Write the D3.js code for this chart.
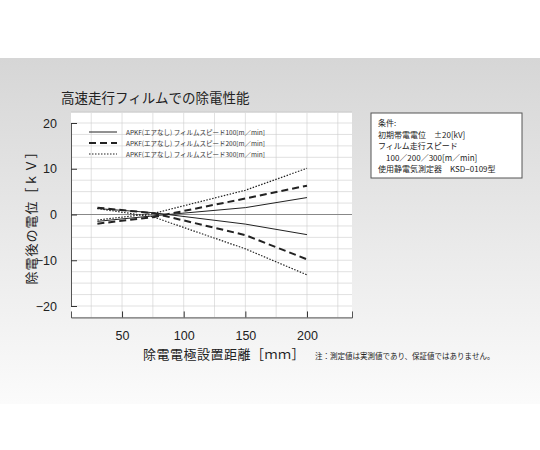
<!DOCTYPE html>
<html><head><meta charset="utf-8">
<script src="https://cdn.jsdelivr.net/npm/d3@7"></script>
<style>body{margin:0;background:#fff}text{font-family:"Noto Sans CJK JP",sans-serif}</style>
</head><body><svg width="540" height="450"></svg>
<script>
const xs = [30, 75, 150, 200]
const series = [
  { name: 'APKF(エアなし) フィルムスピード100[m／min]', dash: null, w: 1, pos: [-1.5, -0.3, 1.5, 3.7], neg: [1.3, 0.4, -2.1, -4.4] },
  { name: 'APKF(エアなし) フィルムスピード200[m／min]', dash: '7,4', w: 2, pos: [-2, -0.6, 3.5, 6.3], neg: [1.5, 0.3, -4.5, -9.8] },
  { name: 'APKF(エアなし) フィルムスピード300[m／min]', dash: '1.5,1.5', w: 1.2, pos: [-1.2, 0.2, 5.3, 10.1], neg: [1.3, -0.5, -7.5, -13.2] }
]
const xTicks = [50, 100, 150, 200]
const yTicks = [-20, -10, 0, 10, 20]
const notes = ['条件:', '初期帯電電位　±20[kV]', 'フィルム走行スピード', '　100／200／300[m／min]', '使用静電気測定器　KSD−0109型']

const svg = d3.select('svg')
const grad = svg.append('defs').append('linearGradient').attr('id', 'bg').attr('x1', 0).attr('y1', 0).attr('x2', 0).attr('y2', 1)
grad.append('stop').attr('offset', 0).attr('stop-color', '#d6d6d6')
grad.append('stop').attr('offset', 1).attr('stop-color', '#fbfbfb')
svg.append('rect').attr('x', 0).attr('y', 58).attr('width', 540).attr('height', 346).attr('fill', 'url(#bg)')

const x = d3.scaleLinear().domain([8.6, 236.5]).range([71, 352])
const y = d3.scaleLinear().domain([-20, 20]).range([306, 123])
const yTop = y(22.2), yBot = y(-22.5)
svg.append('rect').attr('x', 71).attr('y', yTop).attr('width', 281).attr('height', yBot - yTop).attr('fill', '#fff')

const g = svg.append('g')
g.selectAll('.vg').data(d3.range(25, 236, 25)).enter().append('line')
  .attr('x1', d => x(d)).attr('x2', d => x(d)).attr('y1', yTop).attr('y2', yBot).attr('stroke', '#ccc').attr('stroke-width', 0.6)
g.selectAll('.hg').data(d3.range(-22.5, 22.6, 2.5)).enter().append('line')
  .attr('x1', 71).attr('x2', 352).attr('y1', d => y(d)).attr('y2', d => y(d)).attr('stroke', '#ccc').attr('stroke-width', 0.6)
g.append('line').attr('x1', 71).attr('x2', 352).attr('y1', y(0)).attr('y2', y(0)).attr('stroke', '#888')

svg.append('g').attr('transform', 'translate(71,0)')
  .call(d3.axisLeft(y).tickValues(yTicks).tickSize(-6).tickPadding(14).tickFormat(d => d === 0 ? '0' : d3.format('d')(d).replace('-', '−')))
  .call(a => a.selectAll('text').attr('font-size', 12.5).attr('fill', '#222').style('font-family', 'Liberation Sans, sans-serif'))
svg.append('g').attr('transform', `translate(0,${yBot})`)
  .call(d3.axisBottom(x).tickValues(xTicks).tickSize(-6).tickPadding(14))
  .call(a => a.selectAll('text').attr('font-size', 12.5).attr('fill', '#222').style('font-family', 'Liberation Sans, sans-serif'))
svg.selectAll('.domain').attr('stroke', '#555')
svg.selectAll('.tick line').attr('stroke', '#333')

const line = d3.line().x((d, i) => x(xs[i])).y(d => y(d))
series.forEach(s => {
  ;[s.pos, s.neg].forEach(v => {
    svg.append('path').attr('d', line(v)).attr('fill', 'none').attr('stroke', '#222')
      .attr('stroke-width', s.w).attr('stroke-dasharray', s.dash)
  })
})
series.forEach((s, i) => {
  const ly = 132 + i * 11
  svg.append('line').attr('x1', 89).attr('x2', 117).attr('y1', ly).attr('y2', ly).attr('stroke', '#222')
    .attr('stroke-width', s.w).attr('stroke-dasharray', s.dash)
  svg.append('text').attr('x', 126).attr('y', ly + 2.5).attr('font-size', 6.5).attr('fill', '#333').text(s.name)
})

svg.append('text').attr('x', 61).attr('y', 103).attr('font-size', 13.5).attr('fill', '#222').text('高速走行フィルムでの除電性能')
svg.append('text').attr('transform', `translate(36,${y(0)}) rotate(-90)`).attr('text-anchor', 'middle')
  .attr('font-size', 13).attr('fill', '#222').attr('letter-spacing', 1).text('除電後の電位［ｋＶ］')
svg.append('text').attr('x', 224).attr('y', 359).attr('text-anchor', 'middle').attr('font-size', 13).attr('fill', '#222').attr('letter-spacing', 0.5).text('除電電極設置距離［ｍｍ］')
svg.append('text').attr('x', 315).attr('y', 359).attr('font-size', 7.5).attr('fill', '#222').text('注：測定値は実測値であり、保証値ではありません。')

svg.append('rect').attr('x', 371).attr('y', 113).attr('width', 151).attr('height', 65).attr('fill', '#fff').attr('stroke', '#555')
svg.selectAll('.note').data(notes).enter().append('text')
  .attr('x', 378).attr('y', (d, i) => 126 + i * 11.5).attr('font-size', 8).attr('fill', '#222').text(d => d)
</script></body></html>
